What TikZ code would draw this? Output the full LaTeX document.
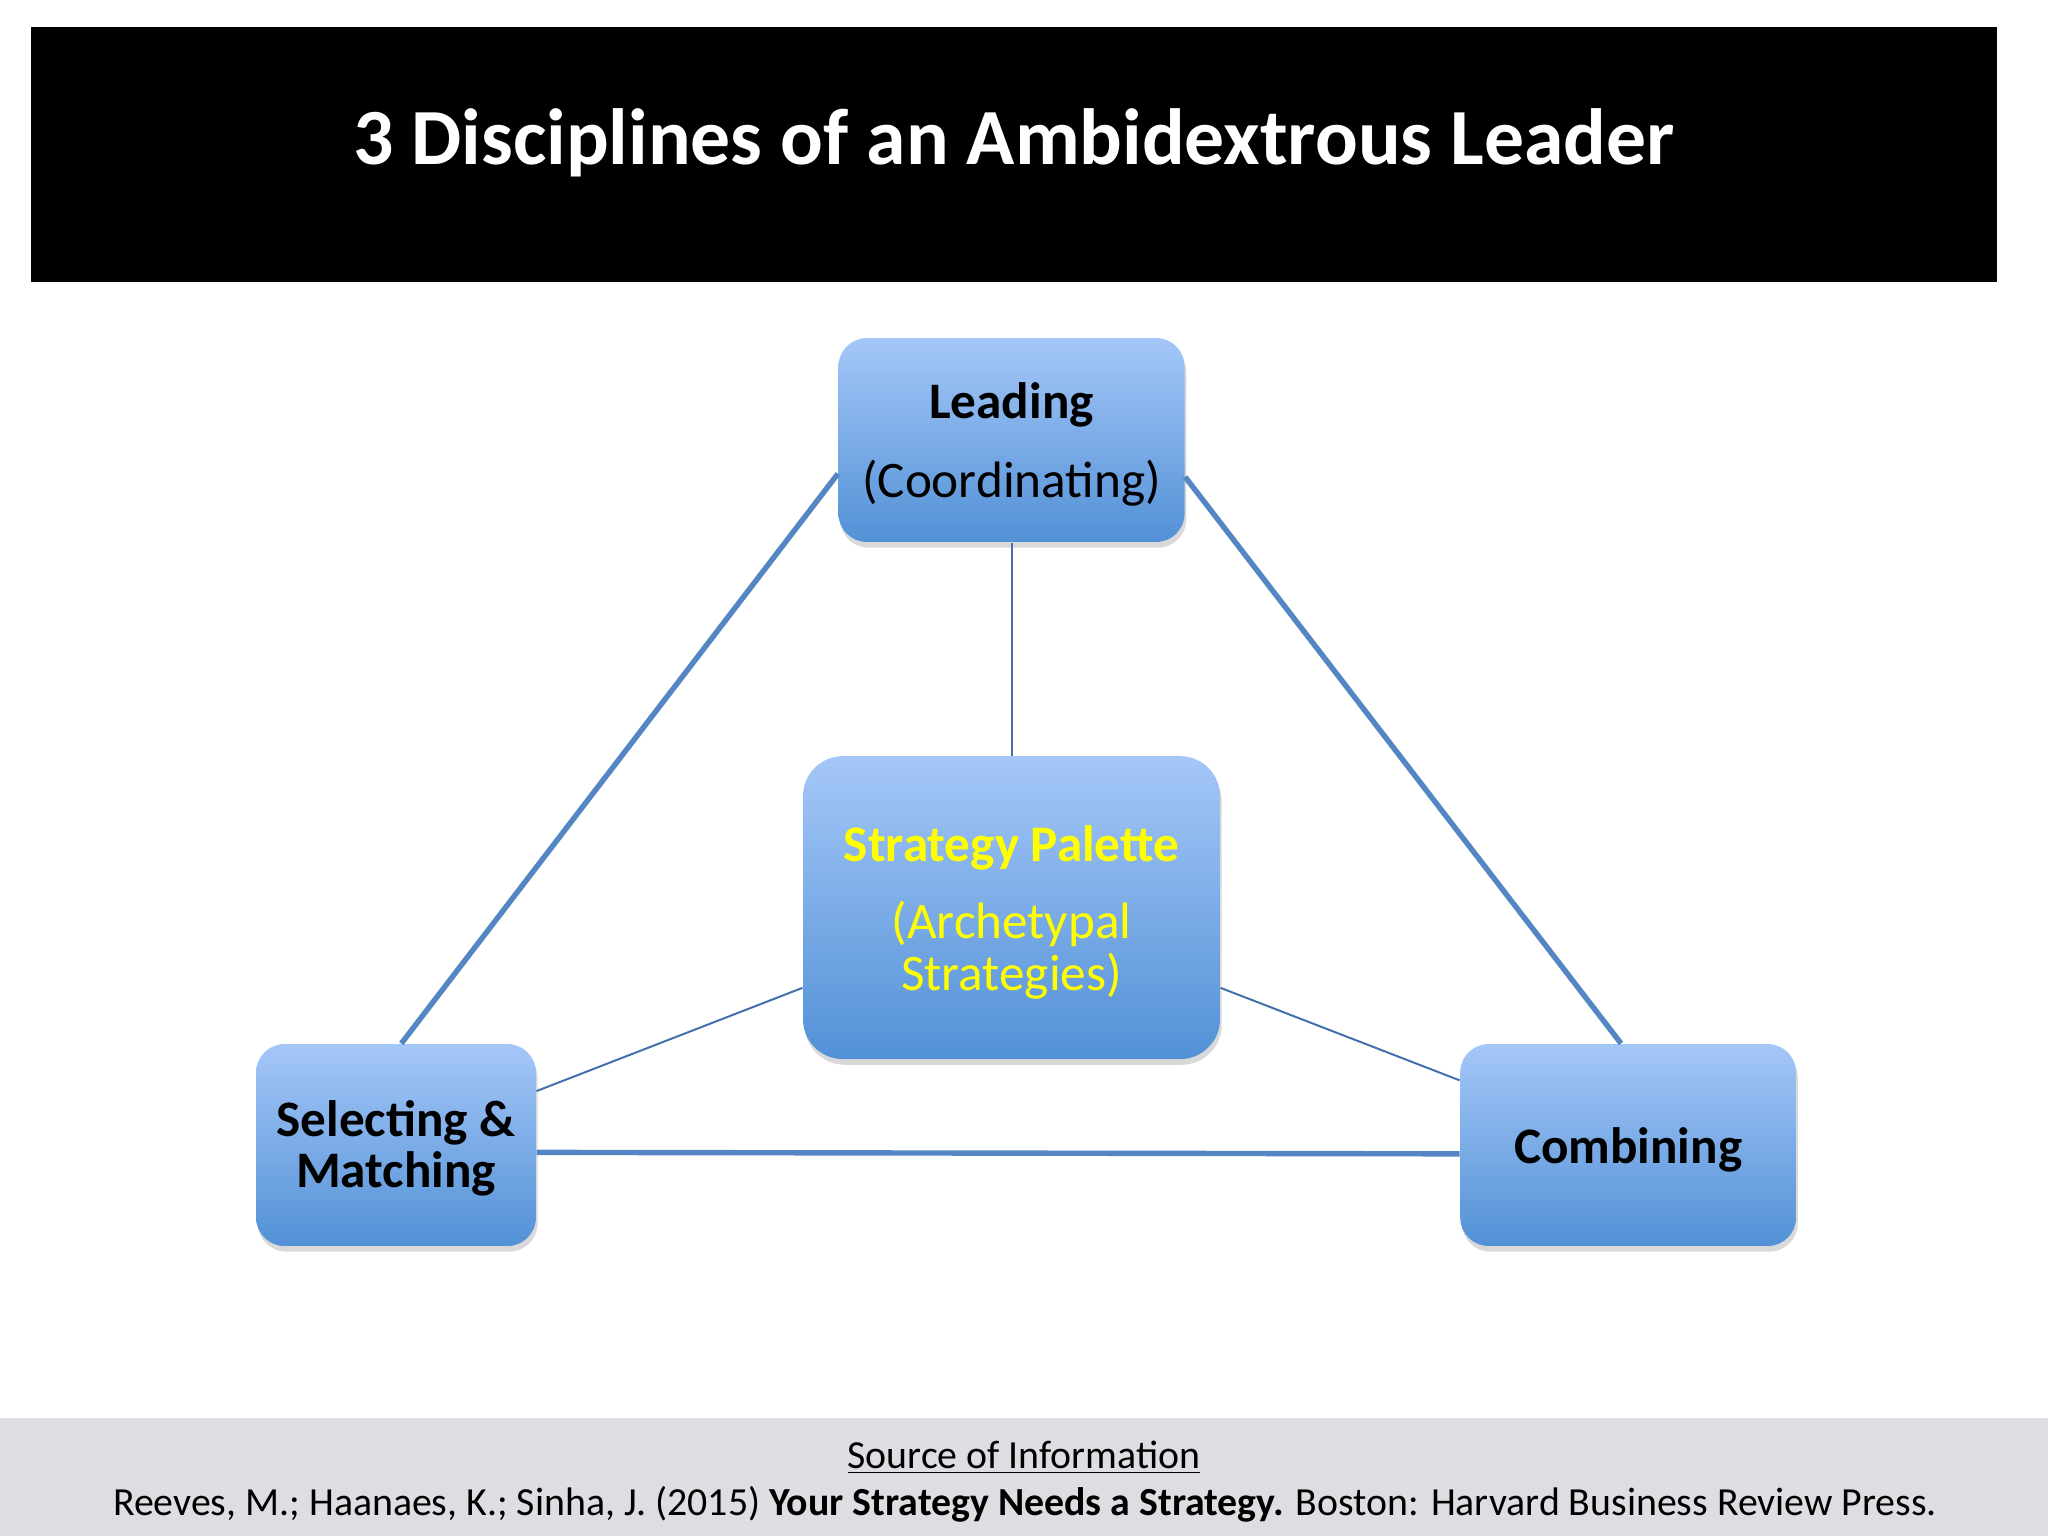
\documentclass[tikz,border=0pt]{standalone}
\usepackage{fontspec}
\setmainfont{Carlito}
\usetikzlibrary{shadows}

\definecolor{boxtop}{RGB}{165,199,248}
\definecolor{boxbottom}{RGB}{82,145,214}
\definecolor{linkblue}{RGB}{84,134,196}
\definecolor{thinblue}{RGB}{66,112,172}
\definecolor{footgrey}{RGB}{222,221,226}
\definecolor{paletteyellow}{RGB}{255,255,0}

\begin{document}
\begin{tikzpicture}
	[x=0.3516bp,y=-0.3516bp,
		box node/.style={rectangle,rounded corners=10bp,top color=boxtop,bottom color=boxbottom,
			align=center,font=\fontsize{18bp}{18.3bp}\selectfont,
			drop shadow={shadow xshift=0.6bp,shadow yshift=-2bp,opacity=0.3}},
		thick link/.style={draw=linkblue,line width=1.9bp},
		thin link/.style={draw=thinblue,line width=0.7bp}]

	\useasboundingbox (0,0) rectangle (2048,1536);

	% title bar and footer
	\fill[black] (31,27) rectangle (1997,282);
	\node[anchor=base,text=white,font=\fontsize{28bp}{34bp}\selectfont\bfseries] (title) at (1014,164)
		{3 Disciplines of an Ambidextrous Leader};
	\fill[footgrey] (0,1418) rectangle (2048,1536);
	\node[anchor=base,font=\fontsize{14bp}{17bp}\selectfont] (source) at (1024,1468) {\underline{Source of Information}};
	\node[anchor=base,font=\fontsize{14bp}{17bp}\selectfont] (cite) at (1025,1515)
		{Reeves, M.; Haanaes, K.; Sinha, J. (2015) \textbf{Your Strategy Needs a Strategy.} Boston: Harvard Business Review Press.};

	\node[box node,minimum width=121.7bp,minimum height=71.7bp]  (lead) at (1011.5,440)
		{\rule{0pt}{16bp}\textbf{Leading}\\[9.4bp](Coordinating)};
	\node[box node,minimum width=146.6bp,minimum height=106.5bp,rounded corners=14bp,text=paletteyellow]
		[below of=lead,node distance=164.4bp]  (pal)
		{\rule{0pt}{16bp}\textbf{Strategy Palette}\\[8.7bp](Archetypal\\Strategies)};
	\node[box node,minimum width=98.4bp,minimum height=71bp,font=\fontsize{18bp}{18bp}\selectfont\bfseries]  (sel) at (396,1145)
		{\rule{0pt}{15bp}Selecting \&\\Matching};
	\node[box node,minimum width=118.1bp,minimum height=71bp,font=\fontsize{18bp}{18bp}\selectfont\bfseries]
		[right of=sel,node distance=433.2bp]  (com)  {\rule{0pt}{16bp}Combining};

	\path[thick link]
	(lead.191) edge (sel.87)
	(lead.-12) edge (com.94)
	(sel.-3)   edge (com.-177.5)
	;
	\path[thin link]
	(lead.south) edge (pal.north)
	(pal.201)    edge (sel.21)
	(pal.-21)    edge (com.159)
	;

\end{tikzpicture}
\end{document}
